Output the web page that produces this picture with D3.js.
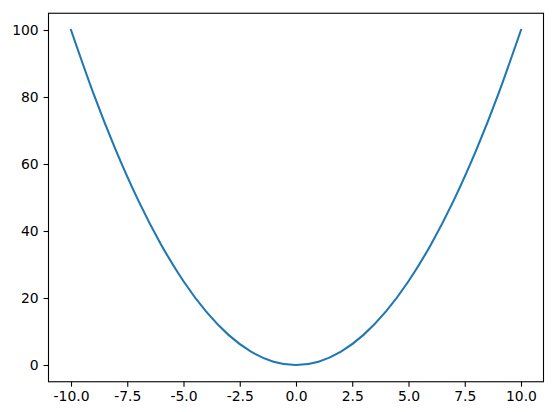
<!DOCTYPE html>
<html><head><meta charset="utf-8">
<script src="https://cdn.jsdelivr.net/npm/d3@7"></script>
<style>body{margin:0;background:#fff}</style></head>
<body><svg id="c" width="552" height="412"></svg>
<script>
const xValues = [-10,-9,-8,-7,-6,-5,-4,-3,-2,-1,0,1,2,3,4,5,6,7,8,9,10];
const yValues = [100,81,64,49,36,25,16,9,4,1,0,1,4,9,16,25,36,49,64,81,100];
const xTicks = [-10,-7.5,-5,-2.5,0,2.5,5,7.5,10];
const yTicks = [0,20,40,60,80,100];
const svg = d3.select("#c");
const L=48.5,R=543.5,T=13.25,B=381.75;
const x = d3.scaleLinear().domain([-11,11]).range([L,R]);
const y = d3.scaleLinear().domain([-5,105]).range([B,T]);
const font = "DejaVu Sans, sans-serif";
const ax = svg.append("g").attr("transform",`translate(0,${B})`)
  .call(d3.axisBottom(x).tickValues(xTicks).tickSize(4.9).tickPadding(4.9).tickFormat(d3.format(".1f")));
const ay = svg.append("g").attr("transform",`translate(${L},0)`)
  .call(d3.axisLeft(y).tickValues(yTicks).tickSize(4.9).tickPadding(4.9).tickFormat(d3.format("d")));
[ax,ay].forEach(g=>{g.select(".domain").remove();
  g.selectAll("text").attr("font-family",font).attr("font-size","13.9px").attr("fill","#000");
  g.selectAll("line").attr("stroke","#000").attr("stroke-width",1.1);});
ax.selectAll("text").text(d=>d3.format(".1f")(d).replace("−","-"));
const pts = xValues.map((v,i)=>[v,yValues[i]]);
svg.append("path").datum(pts).attr("fill","none").attr("stroke","#1f77b4").attr("stroke-width",2.08)
  .attr("stroke-linecap","square")
  .attr("d",d3.line().x(d=>x(d[0])).y(d=>y(d[1])).curve(d3.curveNatural));
svg.append("rect").attr("x",L).attr("y",T).attr("width",R-L).attr("height",B-T)
  .attr("fill","none").attr("stroke","#000").attr("stroke-width",1.1);
</script></body></html>
